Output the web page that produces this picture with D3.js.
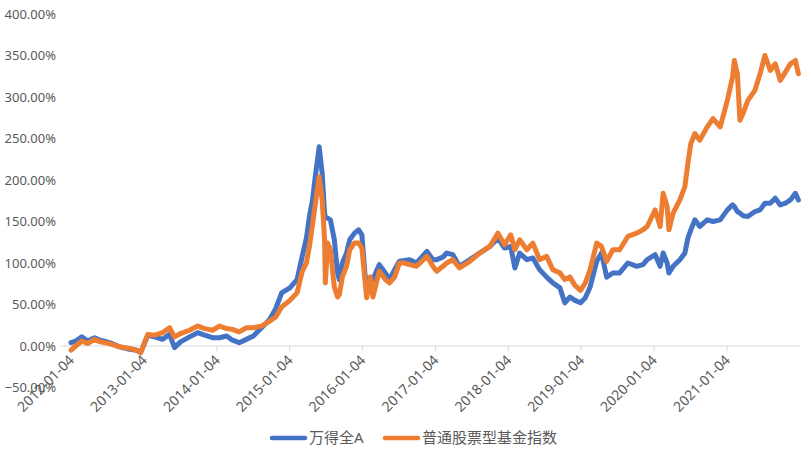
<!DOCTYPE html>
<html>
<head>
<meta charset="utf-8">
<script src="https://cdn.jsdelivr.net/npm/d3@7"></script>
<style>
  body { margin: 0; background: #fff; }
  text { font-family: "Noto Sans", "Noto Sans CJK SC", sans-serif; fill: #595959; }
</style>
</head>
<body>
<div class="linechart"></div>
<script>
const dates = [
  "2012-01-04","2012-01-28","2012-02-27","2012-03-27","2012-05-01","2012-05-30","2012-07-15","2012-09-04",
  "2012-10-24","2012-11-28","2012-12-18","2013-01-23","2013-02-27","2013-04-06","2013-05-12","2013-06-06",
  "2013-07-06","2013-08-20","2013-09-30","2013-11-04","2013-12-13","2014-01-17","2014-02-22","2014-03-23",
  "2014-04-26","2014-06-01","2014-07-06","2014-08-16","2014-09-26","2014-10-26","2014-11-25","2015-01-05",
  "2015-02-10","2015-03-08","2015-03-29","2015-04-13","2015-04-28","2015-05-13","2015-06-01","2015-06-16",
  "2015-06-28","2015-07-02","2015-07-13","2015-07-27","2015-08-16","2015-09-01","2015-09-10","2015-09-25",
  "2015-10-16","2015-11-01","2015-11-25","2015-12-16","2016-01-01","2016-01-16","2016-01-25","2016-02-13",
  "2016-02-25","2016-03-28","2016-04-28","2016-05-19","2016-06-13","2016-07-07","2016-08-02","2016-08-28",
  "2016-10-01","2016-11-22","2016-12-22","2017-01-10","2017-02-10","2017-03-01","2017-04-01","2017-05-04",
  "2017-06-25","2017-08-13","2017-10-04","2017-11-13","2017-12-16","2018-01-16","2018-02-06","2018-03-02",
  "2018-04-07","2018-05-07","2018-06-10","2018-07-15","2018-08-15","2018-09-20","2018-10-14","2018-11-09",
  "2018-12-04","2019-01-01","2019-01-25","2019-02-18","2019-03-23","2019-04-16","2019-05-12","2019-06-12",
  "2019-07-16","2019-08-26","2019-10-10","2019-11-10","2019-12-01","2020-01-10","2020-02-04","2020-02-19",
  "2020-03-10","2020-03-19","2020-04-09","2020-05-13","2020-06-07","2020-06-22","2020-07-07","2020-07-27",
  "2020-08-21","2020-09-27","2020-10-26","2020-12-01","2021-01-06","2021-02-01","2021-02-10","2021-02-25",
  "2021-03-10","2021-03-25","2021-04-19","2021-05-24","2021-06-19","2021-07-13","2021-08-09","2021-09-03",
  "2021-09-28","2021-10-24","2021-11-18","2021-12-13","2021-12-28"
];

// 万得全A, cumulative return in %
const windA = [
  4,6,11,6,10,7,4,-1,
  -4,-5,-8,13,11,8,14,-2,
  5,11,16,13,10,10,12,7,
  4,8,12,22,32,45,64,70,
  80,108,130,156,175,205,240,208,
  160,155,154,152,128,88,80,100,
  112,128,136,140,134,88,70,83,
  80,98,88,80,92,102,103,104,
  100,114,104,104,107,112,110,96,
  104,112,120,130,118,120,94,112,
  104,106,92,83,76,70,52,59,
  55,52,58,71,102,112,83,88,
  88,100,96,98,104,110,96,112,
  100,88,96,104,112,130,140,152,
  144,152,150,152,164,170,168,162,
  160,157,156,162,164,172,172,178,
  170,172,176,184,176
];

// 普通股票型基金指数, cumulative return in %
const fundIdx = [
  -5,0,6,3,8,5,3,-1,
  -3,-5,-8,14,13,16,22,11,
  15,19,24,21,19,24,21,20,
  17,22,22,24,30,35,47,55,
  64,90,100,120,145,172,204,176,
  128,76,124,116,71,59,62,83,
  96,116,124,124,118,80,58,83,
  59,90,80,76,83,100,100,98,
  96,108,96,90,96,100,104,94,
  102,112,120,136,122,134,116,128,
  116,124,104,108,92,88,80,83,
  73,67,76,92,124,120,102,116,
  116,132,136,140,144,164,144,184,
  168,140,160,176,192,220,244,256,
  248,264,274,264,296,324,344,328,
  272,280,296,308,328,350,332,340,
  320,330,340,344,328
];

const yTicks = [-50, 0, 50, 100, 150, 200, 250, 300, 350, 400];
const xTicks = ["2012-01-04","2013-01-04","2014-01-04","2015-01-04","2016-01-04",
                "2017-01-04","2018-01-04","2019-01-04","2020-01-04","2021-01-04"];
const seriesNames = ["万得全A", "普通股票型基金指数"];
const colors = ["#4472C4", "#ED7D31"];

const W = 809, H = 460;
const parse = d3.timeParse("%Y-%m-%d");

const svg = d3.select(".linechart").append("svg")
  .attr("width", W)
  .attr("height", H);

const x = d3.scaleTime()
  .domain([parse("2012-01-04"), parse("2021-12-31")])
  .range([71, 799]);

const y = d3.scaleLinear()
  .domain([-50, 400])
  .range([387.5, 14]);

// y labels
svg.append("g")
  .selectAll("text")
  .data(yTicks)
  .join("text")
  .attr("x", 56)
  .attr("y", d => y(d))
  .attr("dy", "0.35em")
  .attr("text-anchor", "end")
  .style("font-size", "13px")
  .text(d => d3.format(".2f")(d) + "%");

// zero axis line
svg.append("line")
  .attr("x1", 60).attr("x2", 800)
  .attr("y1", y(0)).attr("y2", y(0))
  .attr("stroke", "#d9d9d9")
  .attr("stroke-width", 1);

const xt = svg.append("g");
xt.selectAll("line")
  .data(xTicks)
  .join("line")
  .attr("x1", d => x(parse(d))).attr("x2", d => x(parse(d)))
  .attr("y1", y(0)).attr("y2", y(0) + 5)
  .attr("stroke", "#d9d9d9");

xt.selectAll("text")
  .data(xTicks)
  .join("text")
  .attr("transform", d => `translate(${x(parse(d)) + 4},${y(0) + 15}) rotate(-45)`)
  .attr("text-anchor", "end")
  .style("font-size", "14px")
  .text(d => d);

// lines
const series = [windA, fundIdx];
series.forEach(function(vals, i) {
  const pts = dates.map((d, j) => ({date: parse(d), val: vals[j]}));
  svg.append("path")
    .datum(pts)
    .attr("fill", "none")
    .attr("stroke", colors[i])
    .attr("stroke-width", 5)
    .attr("stroke-linejoin", "round")
    .attr("stroke-linecap", "round")
    .attr("d", d3.line()
      .x(d => x(d.date))
      .y(d => y(d.val)));
});

// legend
const legendX = [272, 385];
const lg = svg.append("g");
seriesNames.forEach(function(name, i) {
  lg.append("line")
    .attr("x1", legendX[i]).attr("x2", legendX[i] + 33)
    .attr("y1", 438).attr("y2", 438)
    .attr("stroke", colors[i])
    .attr("stroke-width", 4.5)
    .attr("stroke-linecap", "round");
  lg.append("text")
    .attr("x", legendX[i] + 37)
    .attr("y", 438)
    .attr("dy", "0.35em")
    .style("font-size", "15px")
    .text(name);
});
</script>
</body>
</html>
